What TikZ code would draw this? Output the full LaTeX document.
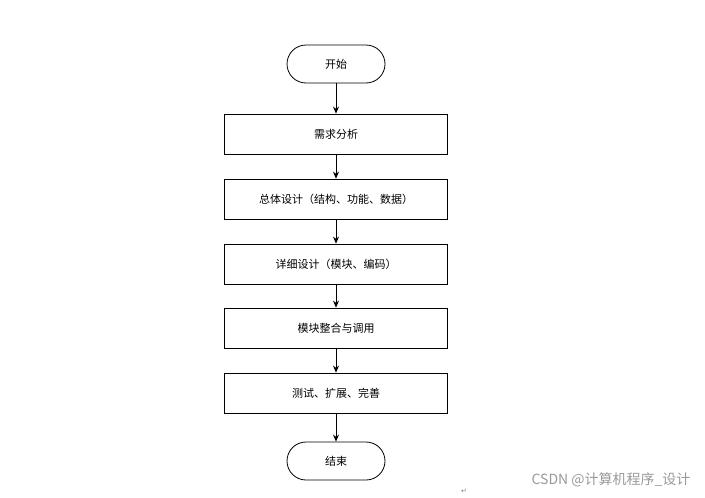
\documentclass[tikz,border=0pt]{standalone}
\usepackage{fontspec}
\setmainfont{Liberation Sans}
\newfontfamily\cjk{Noto Sans CJK SC}
\newfontfamily\djv{DejaVu Sans}
\usetikzlibrary{arrows.meta}
\begin{document}
\begin{tikzpicture}[x=1pt,y=-1pt,
  box/.style={draw,line width=0.8pt,minimum width=223pt,minimum height=40pt,font=\cjk\fontsize{11}{13}\selectfont},
  term/.style={draw,line width=0.8pt,rounded corners=19pt,minimum width=98pt,minimum height=38pt,font=\cjk\fontsize{11}{13}\selectfont},
  arr/.style={-{Stealth[length=7pt,width=6pt]},line width=0.8pt}]
\useasboundingbox (0,0) rectangle (705,498);
\node[term] (s) at (336,64) {开始};
\node[box] (a) at (336,134) {需求分析};
\node[box] (b) at (336,199) {总体设计（结构、功能、数据）};
\node[box] (c) at (336,264) {详细设计（模块、编码）};
\node[box] (d) at (336,328) {模块整合与调用};
\node[box] (e) at (336,393) {测试、扩展、完善};
\node[term] (f) at (336,461) {结束};
\draw[arr] (s) -- (a);
\draw[arr] (a) -- (b);
\draw[arr] (b) -- (c);
\draw[arr] (c) -- (d);
\draw[arr] (d) -- (e);
\draw[arr] (e) -- (f);
\node[anchor=east,text=gray!80,font=\cjk\fontsize{14}{16}\selectfont] (w) at (694,480) {CSDN @计算机程序\_设计};
\node[font=\djv\fontsize{7}{8}\selectfont,text=gray] (r) at (464,491) {↵};
\end{tikzpicture}
\end{document}
